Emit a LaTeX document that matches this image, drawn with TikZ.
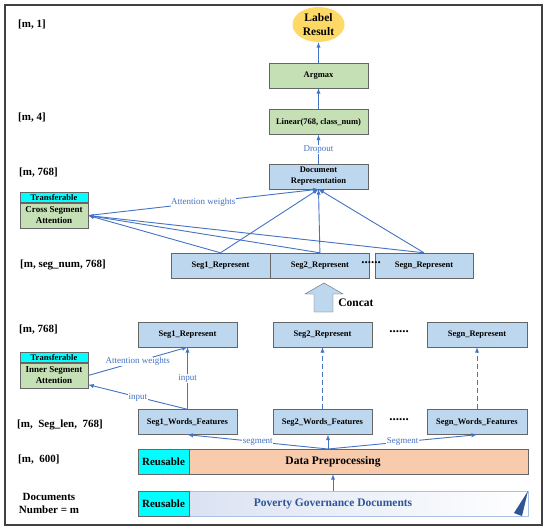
\documentclass[tikz,border=0pt]{standalone}
\usepackage{fontspec}
\setmainfont{Liberation Serif}
\usetikzlibrary{positioning,shapes.geometric}

\definecolor{repblue}{HTML}{BDD7EE}
\definecolor{layergreen}{HTML}{C5E0B4}
\definecolor{prepeach}{HTML}{F8CBAD}
\definecolor{resultyellow}{HTML}{FFD966}
\definecolor{linkblue}{HTML}{4472C4}
\definecolor{docblue}{HTML}{2F5597}
\definecolor{docshade}{HTML}{D5DEF0}
\definecolor{reusecyan}{HTML}{00FFFF}

\begin{document}
\begin{tikzpicture}[x=1pt, y=-1pt, >=latex,
    rep node/.style={rectangle,draw=black!60,fill=repblue,minimum width=99pt,minimum height=25pt,inner sep=0pt,align=center,font=\bfseries\fontsize{8.5}{11}\selectfont},
    layer node/.style={rep node,fill=layergreen},
    tag node/.style={rectangle,draw=black!60,fill=reusecyan,minimum height=25pt,inner sep=0pt,font=\bfseries\fontsize{11}{12}\selectfont},
    dim label/.style={anchor=west,inner sep=0pt,font=\bfseries\fontsize{11}{12}\selectfont},
    link/.style={draw=linkblue,line width=0.9pt,->},
    link label/.style={font=\fontsize{9}{10}\selectfont,text=linkblue,fill=white,inner sep=0.5pt},
    dots/.style={font=\bfseries\fontsize{13}{13}\selectfont}]

  \useasboundingbox (0,0) rectangle (550,531);
  \draw[line width=1.1pt,black!75] (5,5) rectangle (542,525);

  \node[dim label] (dim1) at (18,25) {[m, 1]};
  \node[dim label] (dim4) at (18,118) {[m, 4]};
  \node[dim label] (dimdoc) at (19,173) {[m, 768]};
  \node[dim label] (dimsegs) at (20,265) {[m, seg\_num, 768]};
  \node[dim label] (dimseg) at (19,330) {[m, 768]};
  \node[dim label] (dimwords) at (17,425) {[m,\enspace Seg\_len,\enspace 768]};
  \node[dim label] (dimprep) at (18,460) {[m,\enspace 600]};
  \node[align=center,font=\bfseries\fontsize{11}{13}\selectfont] (dimdocs) at (49,503) {Documents\\Number = m};

  \node[ellipse,fill=resultyellow,minimum width=52pt,minimum height=35pt,inner sep=0pt,align=center,font=\bfseries\fontsize{11.5}{14}\selectfont] (result) at (318.5,24.5) {Label\\Result};
  \node[layer node] (argmax) at (318.5,75.5) {Argmax};
  \node[layer node] (linear) at (318.5,122) {Linear(768, class\_num)};
  \node[rep node] (docrep) at (318.5,176.5) {Document\\Representation};

  \node[layer node,minimum width=68pt,font=\bfseries\fontsize{9}{11}\selectfont] (cross) at (54,215.5) {Cross Segment\\Attention};
  \node[tag node,minimum width=68pt,minimum height=10pt,font=\bfseries\fontsize{8.5}{9}\selectfont] (crosstag) [above=0pt of cross] {Transferable};

  \node[rep node] (segrep1) at (220.5,265.5) {Seg1\_Represent};
  \node[rep node] (segrep2) [right=0pt of segrep1] {Seg2\_Represent};
  \node[rep node,minimum width=98pt] (segrepn) at (424,265.5) {Segn\_Represent};
  \node[dots] (segrepdots) at (371,263) {......};

  \draw[draw=black!60,fill=repblue] (314,312) -- (314,294) -- (305,294) -- (324,283) -- (343,294) -- (333,294) -- (333,312) -- cycle;
  \node[font=\bfseries\fontsize{11.5}{12}\selectfont] (concat) at (356,302.5) {Concat};

  \node[rep node] (seg1) at (187.5,334.5) {Seg1\_Represent};
  \node[rep node] (seg2) at (322.5,334.5) {Seg2\_Represent};
  \node[rep node,minimum width=100pt] (segn) at (477,334.5) {Segn\_Represent};
  \node[dots] (segdots) at (399,332) {......};

  \node[layer node,minimum width=68pt,font=\bfseries\fontsize{9}{11}\selectfont] (inner) at (54,375.5) {Inner Segment\\Attention};
  \node[tag node,minimum width=68pt,minimum height=10pt,font=\bfseries\fontsize{8.5}{9}\selectfont] (innertag) [above=0pt of inner] {Transferable};

  \node[rep node] (words1) at (187.5,422) {Seg1\_Words\_Features};
  \node[rep node] (words2) at (322.5,422) {Seg2\_Words\_Features};
  \node[rep node,minimum width=100pt] (wordsn) at (477,422) {Segn\_Words\_Features};
  \node[dots] (wordsdots) at (399,419.5) {......};

  \node[rectangle,draw=black!60,fill=prepeach,minimum width=390pt,minimum height=25pt,inner sep=0pt,font=\bfseries\fontsize{11.5}{12}\selectfont] (prep) at (333,461.5) {Data Preprocessing};
  \node[tag node,minimum width=51pt] (prepuse) at (163.5,461.5) {Reusable};

  \node[rectangle,draw=linkblue!45,left color=docshade,right color=white,minimum width=390pt,minimum height=25pt,inner sep=0pt,text=docblue,font=\bfseries\fontsize{11.5}{12}\selectfont] (docs) at (333,503.5) {Poverty Governance Documents};
  \node[tag node,minimum width=51pt] (docsuse) at (163.5,503.5) {Reusable};
  \fill[docblue] (528,491) -- (514,513) -- (522,516) -- cycle;

  \coordinate (fan) at (328,449);

\path[every edge/.style={link}]
    (argmax) edge (result)
    (linear) edge (argmax)
    (docrep) edge node[link label] {Dropout} (linear)

    (segrep1.north) edge (docrep.south)
    (segrep2.north) edge (docrep.south)
    (segrepn.north) edge (docrep.south)
    (segrep1.north) edge (cross.east)
    (segrep2.north) edge (cross.east)
    (segrepn.north) edge (cross.east)
    (cross.east) edge node[link label] {Attention weights} (docrep.south)

    (words1.north) edge node[link label] {input} (seg1.south)
    (words1.north) edge node[link label] {input} (inner.-15)
    (inner.east) edge node[link label] {Attention weights} (seg1.south)
    (words2.north) edge[dash pattern=on 5pt off 3pt] (seg2.south)
    (wordsn.north) edge[dash pattern=on 5pt off 3pt] (segn.south)

    (fan) edge node[link label] {segment} (words1.south)
    (fan) edge (words2.south -| fan)
    (fan) edge node[link label] {Segment} (wordsn.south)
    (docs) edge (prep);

\end{tikzpicture}
\end{document}
